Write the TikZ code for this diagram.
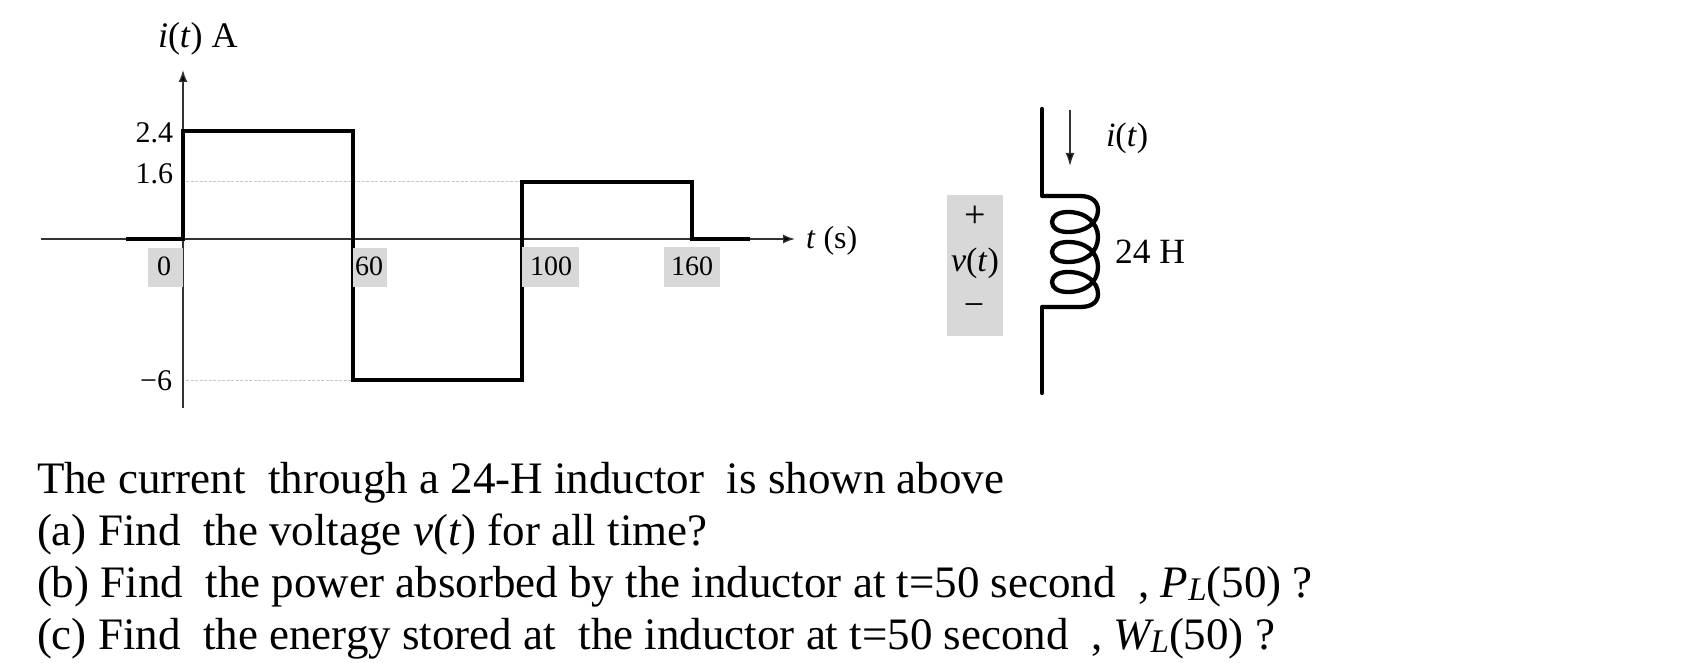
\documentclass[tikz,border=0pt]{standalone}
\usepackage{fontspec}
\setmainfont{Liberation Serif}
\usetikzlibrary{arrows.meta}
\definecolor{boxgray}{RGB}{216,216,216}
\definecolor{dotgray}{RGB}{200,200,200}
\definecolor{axisgray}{RGB}{50,50,50}
\newcommand{\fsz}[1]{\fontsize{#1pt}{#1pt}\selectfont}
\newcommand{\subL}{\raisebox{-3pt}{\fsz{33}\textit{L}}}
\tikzset{
  x=1pt,y=-1pt,
  txt/.style={inner sep=0pt,outer sep=0pt,anchor=base west,text=black},
  txtc/.style={inner sep=0pt,outer sep=0pt,anchor=base,text=black},
  txtr/.style={inner sep=0pt,outer sep=0pt,anchor=base east,text=black},
  axisline/.style={line width=1.4pt,draw=axisgray},
  axisarrow/.style={axisline,-{Latex[length=12pt,width=9pt,fill=black]}},
  wave/.style={line width=4.3pt,draw=black,line join=miter},
  wire/.style={line width=4.3pt,draw=black,line cap=round},
  coil/.style={line width=4.3pt,draw=black,line join=round},
  guide/.style={line width=1pt,draw=dotgray,dash pattern=on 3pt off 1.5pt},
  tickbox/.style={fill=boxgray,draw=none},
}
\begin{document}
\begin{tikzpicture}
\useasboundingbox (0,0) rectangle (1684,663);
% axes
\coordinate (xs) at (41,239); \coordinate (xe) at (795,239);
\coordinate (ys) at (183,408); \coordinate (ye) at (183,70);
\draw[guide] (186,182) -- (522,182);
\draw[guide] (186,380) -- (351,380);
\draw[axisarrow] (xs) -- (xe);
\draw[axisarrow] (ys) -- (ye);
% waveform
\draw[wave] (126,239) -- (183,239) -- (183,131) -- (353,131) -- (353,380) -- (522,380) -- (522,182) -- (692,182) -- (692,239) -- (750,239);
% tick boxes
\fill[tickbox] (148,248) rectangle (183,287);
\fill[tickbox] (353,248) rectangle (387,287);
\fill[tickbox] (522,247) rectangle (579,287);
\fill[tickbox] (664,247) rectangle (720,287);
\node[txtc] (t0) at (164,276) {\fsz{28}0};
\node[txtc] (t60) at (369,276) {\fsz{28}60};
\node[txtc] (t100) at (551,276) {\fsz{28}100};
\node[txtc] (t160) at (692,276) {\fsz{28}160};
\node[txtr] (v24) at (173,143) {\fsz{30}2.4};
\node[txtr] (v16) at (173,184) {\fsz{30}1.6};
\node[txtr] (v6) at (172,390) {\fsz{30}\char"2212 6};
\node[txt] (ylab) at (158,48) {\fsz{36}\textit{i}(\textit{t}) A};
\node[txt] (xlab) at (806,248) {\fsz{32}\textit{t} (s)};
% inductor
\fill[tickbox] (947,195) rectangle (1003,336);
\node[txtc] (plus) at (975,228) {\fsz{38}+};
\node[txtc] (vlab) at (975,272) {\fsz{34}\textit{v}(\textit{t})};
\node[txtc] (minus) at (974,316) {\fsz{36}\char"2212};
\node[txt] (ilab) at (1106,147) {\fsz{34}\textit{i}(\textit{t})};
\node[txt] (lval) at (1115,263) {\fsz{35.5}24 H};
\draw[axisline,-{Latex[length=13pt,width=9pt,fill=black]}] (1070,110) -- (1070,166);
\draw[wire] (1042,109) -- (1042,196);
\draw[wire] (1042,307) -- (1042,393);
\draw[coil]
  (1042,196) -- (1080,196)
  .. controls (1092,196) and (1098,202) .. (1098,210)
  .. controls (1098,223) and (1086,232) .. (1068,232)
  .. controls (1058,232) and (1052,228) .. (1052,222)
  .. controls (1052,216) and (1058,212) .. (1068,212)
  .. controls (1086,212) and (1098,223) .. (1098,237)
  .. controls (1098,252) and (1086,262) .. (1068,262)
  .. controls (1058,262) and (1052,258) .. (1052,252)
  .. controls (1052,246) and (1058,242) .. (1068,242)
  .. controls (1086,242) and (1098,252) .. (1098,267)
  .. controls (1098,282) and (1086,292) .. (1068,292)
  .. controls (1058,292) and (1052,288) .. (1052,282)
  .. controls (1052,276) and (1058,272) .. (1068,272)
  .. controls (1086,272) and (1098,282) .. (1098,294)
  .. controls (1098,302) and (1092,307) .. (1080,307)
  -- (1042,307);
% question text
\node[txt] (q1) at (37,493) {\fsz{45}The current\ \ through a 24-H inductor\ \ is shown above};
\node[txt] (q2) at (37,545) {\fsz{45}(a) Find\ \ the voltage \textit{v}(\textit{t}) for all time?};
\node[txt] (q3) at (37,597.5) {\fsz{45}(b) Find\ \ the power absorbed by the inductor at t=50 second\ \ , \textit{P}\subL(50) ?};
\node[txt] (q4) at (37,649) {\fsz{45}(c) Find\ \ the energy stored at\ \ the inductor at t=50 second\ \ , \textit{W}\kern-4pt\subL(50) ?};
\end{tikzpicture}
\end{document}
